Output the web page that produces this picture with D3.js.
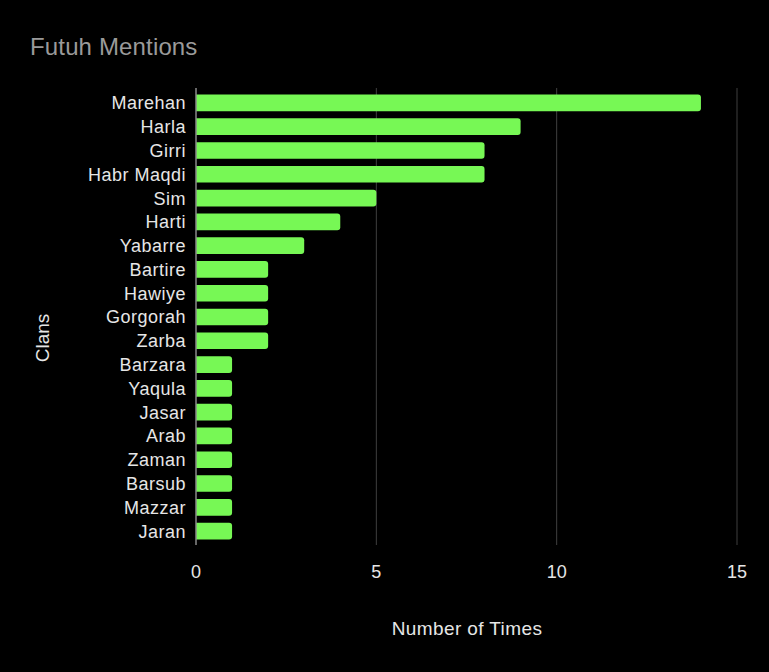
<!DOCTYPE html>
<html><head><meta charset="utf-8">
<script src="https://cdn.jsdelivr.net/npm/d3@7"></script>
<style>html,body{margin:0;padding:0;background:#000;}svg{display:block;font-family:"Liberation Sans",Arial,sans-serif;}</style>
</head><body>
<svg id="chart" width="769" height="672"></svg>
<script>
const clans = ["Marehan","Harla","Girri","Habr Maqdi","Sim","Harti","Yabarre","Bartire","Hawiye","Gorgorah","Zarba","Barzara","Yaqula","Jasar","Arab","Zaman","Barsub","Mazzar","Jaran"];
const mentions = [14,9,8,8,5,4,3,2,2,2,2,1,1,1,1,1,1,1,1];
const xTicks = [0,5,10,15];

const svg = d3.select("#chart");
svg.append("rect").attr("width",769).attr("height",672).attr("fill","#000");

const x = d3.scaleLinear().domain([0,15]).range([196,737]);
const y = d3.scaleBand().domain(clans).range([91,543]).paddingInner(0.3).paddingOuter(0.15);

// gridlines
svg.append("g").selectAll("line").data(xTicks.filter(d=>d>0)).join("line")
  .attr("x1",d=>x(d)).attr("x2",d=>x(d)).attr("y1",88).attr("y2",545)
  .attr("stroke","#3f3f3f").attr("stroke-width",1);

// bars with rounded right corners
const r = 3;
svg.append("g").selectAll("path").data(clans).join("path")
  .attr("d",(c,i)=>{
    const x0 = x(0), x1 = x(mentions[i]), y0 = y(c), h = y.bandwidth();
    return `M${x0},${y0}H${x1-r}Q${x1},${y0} ${x1},${y0+r}V${y0+h-r}Q${x1},${y0+h} ${x1-r},${y0+h}H${x0}Z`;
  })
  .attr("fill","#77f855");

// axis line
svg.append("line").attr("x1",x(0)).attr("x2",x(0)).attr("y1",88).attr("y2",545)
  .attr("stroke","#8a8a8a").attr("stroke-width",1.5);

// category labels
svg.append("g").selectAll("text").data(clans).join("text")
  .attr("x",186).attr("y",c=>y(c)+y.bandwidth()/2).attr("dy","0.36em")
  .attr("text-anchor","end").attr("fill","#e6e6e6").attr("font-size",18)
  .attr("letter-spacing",0.5)
  .text(c=>c);

// x tick labels
svg.append("g").selectAll("text").data(xTicks).join("text")
  .attr("x",d=>x(d)).attr("y",578).attr("text-anchor","middle")
  .attr("fill","#e6e6e6").attr("font-size",18).text(d=>d);

// title
svg.append("text").attr("x",30).attr("y",55).attr("fill","#9a9a9a").attr("font-size",24)
  .attr("letter-spacing",0.15).text("Futuh Mentions");

// axis titles
svg.append("text").attr("x",467).attr("y",635).attr("text-anchor","middle")
  .attr("fill","#e6e6e6").attr("font-size",19).attr("letter-spacing",0.4).text("Number of Times");
svg.append("text").attr("transform","translate(49,338) rotate(-90)").attr("text-anchor","middle")
  .attr("fill","#e6e6e6").attr("font-size",19).text("Clans");
</script>
</body></html>
